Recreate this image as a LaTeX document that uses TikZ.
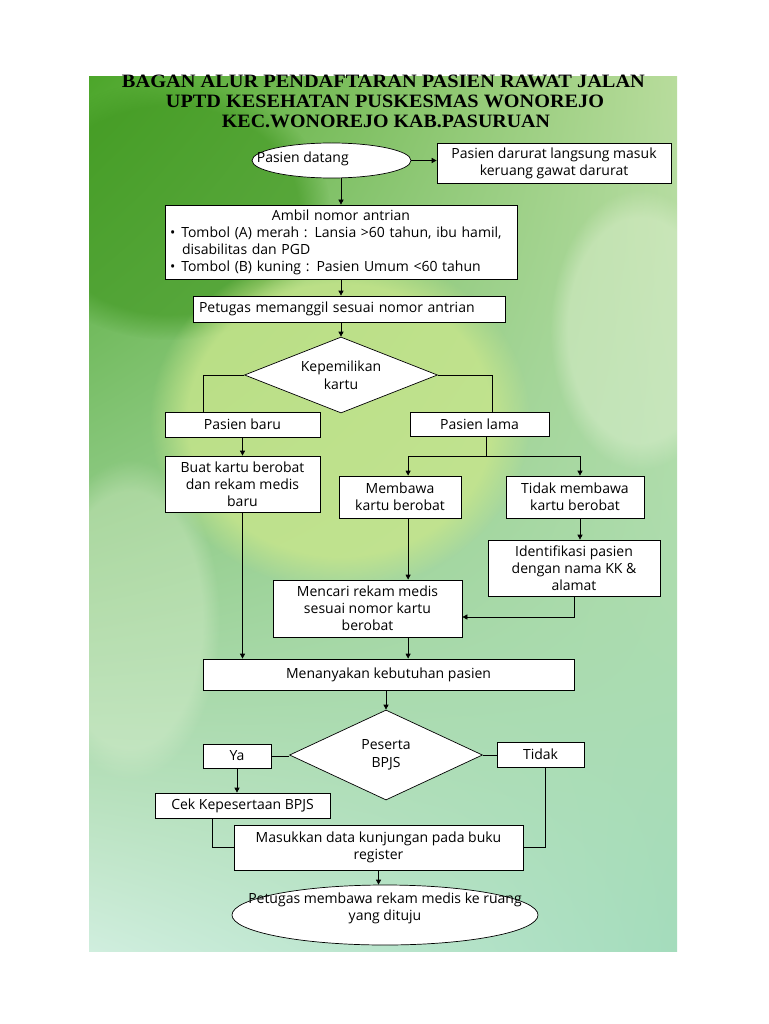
\documentclass[tikz,border=0pt]{standalone}
\usepackage{fontspec}
\usepackage{graphicx}
\setmainfont{Open Sans}
\newfontfamily\titlefont{Liberation Serif}
\usetikzlibrary{arrows.meta,shapes.geometric,fadings,shadings,calc}
\newcommand\bodyfs{\fontsize{14pt}{17pt}\selectfont}
\definecolor{gUL}{RGB}{76,166,42}
\definecolor{gUR}{RGB}{184,220,156}
\definecolor{gLL}{RGB}{208,238,222}
\definecolor{gLR}{RGB}{164,220,188}
\definecolor{gDark}{RGB}{62,150,30}
\definecolor{gBright}{RGB}{200,230,140}
\definecolor{gPale}{RGB}{226,242,212}
\begin{document}
\begin{tikzpicture}[x=1pt,y=-1pt,
  box/.style={draw=black, line width=0.7pt, fill=white, inner sep=2pt, align=center, font=\bodyfs},
  elli/.style={draw=black, line width=0.7pt, fill=white, ellipse, inner sep=0pt},
  dia/.style={draw=black, line width=0.7pt, fill=white, diamond, inner sep=0pt, align=center, font=\bodyfs},
  conn/.style={line width=0.7pt, black},
  arr/.style={conn, -{Triangle[length=5pt,width=5pt]}},
  ttl/.style={anchor=base, inner sep=0pt}]
\useasboundingbox (0,0) rectangle (768,1024);
\fill[white] (0,0) rectangle (768,1024);
% background
\shade[upper left=gUL, upper right=gUR, lower left=gLL, lower right=gLR] (89,77) rectangle (677,951);
\begin{scope}
\clip (89,77) rectangle (677,951);
\fill[gDark, path fading=circle with fuzzy edge 20 percent, fill opacity=0.6] (170,210) ellipse [x radius=160, y radius=130];
\fill[gBright, path fading=circle with fuzzy edge 20 percent, fill opacity=0.8] (340,420) ellipse [x radius=190, y radius=170];
\fill[gPale, path fading=circle with fuzzy edge 20 percent, fill opacity=0.45] (640,330) ellipse [x radius=90, y radius=140];
\fill[gPale, path fading=circle with fuzzy edge 20 percent, fill opacity=0.35] (130,620) ellipse [x radius=90, y radius=160];
\end{scope}
% title
\node[ttl] (t1) at (383.5,88) {\resizebox{523pt}{12.5pt}{\titlefont\bfseries BAGAN ALUR PENDAFTARAN PASIEN RAWAT JALAN}};
\node[ttl] (t2) at (385,108) {\resizebox{438pt}{12.5pt}{\titlefont\bfseries UPTD KESEHATAN PUSKESMAS WONOREJO}};
\node[ttl] (t3) at (386,127.5) {\resizebox{328pt}{12.5pt}{\titlefont\bfseries KEC.WONOREJO KAB.PASURUAN}};
% nodes
\node[elli, minimum width=159pt, minimum height=35pt] (start) at (331.5,160.5) {};
\node[anchor=west, inner sep=0pt, font=\bodyfs] (starttxt) at ($(start.west)+(5,-2)$) {Pasien datang};
\node[box, minimum width=234pt, minimum height=40pt] (darurat) at (554,163) {Pasien darurat langsung masuk\\keruang gawat darurat};
\node[box, minimum width=352pt, minimum height=74pt, text width=342pt, align=left] (ambil) at (341,242) {\makebox[342pt]{Ambil nomor antrian}\\
\textbullet\hspace{6pt}Tombol (A) merah : Lansia >60 tahun, ibu hamil,\\
\hspace*{12pt}disabilitas dan PGD\\
\textbullet\hspace{6pt}Tombol (B) kuning : Pasien Umum <60 tahun};
\node[box, minimum width=312pt, minimum height=26pt, text width=300pt, align=left] (petugas) at (349,309) {Petugas memanggil sesuai nomor antrian};
\node[dia, minimum width=193pt, minimum height=76pt, aspect=2.54] (kep) at (341,375) {Kepemilikan\\[1.5pt]kartu};
\node[box, minimum width=155pt, minimum height=25pt] (pbaru) at (242.5,424.5) {Pasien baru};
\node[box, minimum width=139pt, minimum height=24pt] (plama) at (479.5,424) {Pasien lama};
\node[box, minimum width=155pt, minimum height=56pt] (buat) at (242.5,484) {Buat kartu berobat\\dan rekam medis\\baru};
\node[box, minimum width=122pt, minimum height=42pt] (membawa) at (400,497) {Membawa\\kartu berobat};
\node[box, minimum width=138pt, minimum height=42pt] (tmembawa) at (575,497) {Tidak membawa\\kartu berobat};
\node[box, minimum width=172pt, minimum height=56pt] (ident) at (574,568) {Identifikasi pasien\\dengan nama KK \&\\alamat};
\node[box, minimum width=189pt, minimum height=57pt] (mencari) at (367.5,608.5) {Mencari rekam medis\\sesuai nomor kartu\\berobat};
\node[box, minimum width=371pt, minimum height=31pt] (menanya) at (388.5,674.5) {Menanyakan kebutuhan pasien};
\node[dia, minimum width=193pt, minimum height=90pt, aspect=2.14] (peserta) at (386,755) {Peserta\\[1.5pt]BPJS};
\node[box, minimum width=68pt, minimum height=24pt] (ya) at (237,756) {Ya};
\node[box, minimum width=87pt, minimum height=25pt] (tidak) at (540.5,754.5) {Tidak};
\node[box, minimum width=175pt, minimum height=25pt] (cek) at (242.5,805.5) {Cek Kepesertaan BPJS};
\node[box, minimum width=289pt, minimum height=45pt] (masuk) at (378.5,847.5) {Masukkan data kunjungan pada buku\\register};
\node[elli, minimum width=306pt, minimum height=60pt] (endE) at (385,915) {};
\node[inner sep=0pt, align=center, font=\bodyfs] (endtxt) at ($(endE.center)+(0,-7)$) {Petugas membawa rekam medis ke ruang\\yang dituju};
% helper coordinates
\coordinate (mbTop) at ($(membawa.north west)!0.566!(membawa.north east)$);
\coordinate (tmTop) at ($(tmembawa.north west)!0.536!(tmembawa.north east)$);
\coordinate (plBot) at ($(plama.south west)!0.55!(plama.south east)$);
\coordinate (split) at ($(plBot)!0.5!(plBot |- mbTop)$);
\coordinate (pbTop) at ($(pbaru.north west)!0.25!(pbaru.north east)$);
\coordinate (plTop) at ($(plama.north west)!0.59!(plama.north east)$);
\coordinate (cekBot) at ($(cek.south west)!0.326!(cek.south east)$);
\coordinate (tdBot) at ($(tidak.south west)!0.55!(tidak.south east)$);
% connectors
\draw[arr] (start.east) -- (start.east -| darurat.west);
\draw[arr] (ambil.north |- start.south) -- (ambil.north);
\draw[arr] (ambil.south) -- (ambil.south |- petugas.north);
\draw[arr] (kep.north |- petugas.south) -- (kep.north);
\draw[conn] (kep.west) -| (pbTop);
\draw[conn] (kep.east) -| (plTop);
\draw[arr] (pbaru.south) -- (buat.north);
\draw[conn] (plBot) -- (split);
\draw[conn] (split -| mbTop) -- (split -| tmTop);
\draw[arr] (split -| mbTop) -- (mbTop);
\draw[arr] (split -| tmTop) -- (tmTop);
\draw[arr] (tmembawa.south -| tmTop) -- (ident.north -| tmTop);
\draw[arr] (ident.south) |- ($(mencari.east)+(0,8.5)$);
\draw[arr] (membawa.south -| mbTop) -- (mencari.north -| mbTop);
\draw[arr] (buat.south) -- (buat.south |- menanya.north);
\draw[arr] (mencari.south -| mbTop) -- (menanya.north -| mbTop);
\draw[arr] (peserta.north |- menanya.south) -- (peserta.north);
\draw[conn] (ya.east) -- (ya.east -| peserta.west);
\draw[conn] (peserta.east) -- (peserta.east -| tidak.west);
\draw[arr] (ya.south) -- (ya.south |- cek.north);
\draw[conn] (cekBot) |- (masuk.west);
\draw[conn] (tdBot) |- (masuk.east);
\draw[arr] (masuk.south) -- (masuk.south |- endE.north);
\end{tikzpicture}
\end{document}
